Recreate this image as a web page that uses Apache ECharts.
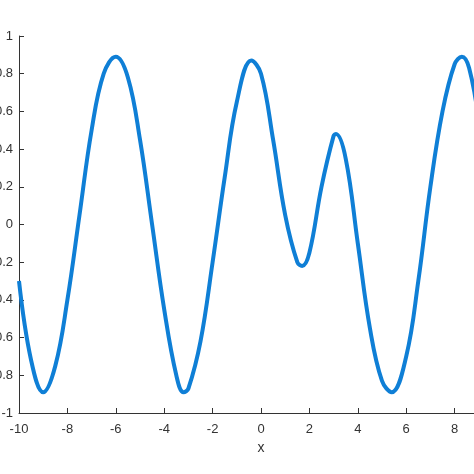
<!DOCTYPE html><html><head><meta charset="utf-8">
<script src="https://cdn.jsdelivr.net/npm/echarts@6/dist/echarts.min.js"></script>
<style>html,body{margin:0;padding:0;background:#fff;overflow:hidden}#c{width:510px;height:474px}</style></head><body><div id="c"></div>
<script>
const xs=[-10,-9.5,-9,-8.5,-8,-7.5,-7,-6.5,-6,-5.5,-5,-4.5,-4,-3.5,-3.2,-3,-2.5,-2,-1.5,-1,-0.4,0,0.5,1,1.5,1.7,2,2.5,3,3.1,3.5,4,4.5,5,5.4,6,6.5,7,7.5,8,8.3,8.6,9];
const ys=[-0.3,-0.72,-0.89,-0.75,-0.4,0.05,0.5,0.8,0.89,0.78,0.45,0.0,-0.45,-0.8,-0.89,-0.87,-0.62,-0.2,0.25,0.65,0.87,0.8,0.45,0.05,-0.2,-0.22,-0.15,0.2,0.47,0.48,0.35,-0.1,-0.55,-0.83,-0.89,-0.7,-0.3,0.2,0.6,0.85,0.89,0.83,0.55];
const ch=echarts.init(document.getElementById('c'));
const ax={color:'#333',fontSize:13,fontFamily:'Liberation Sans'};
ch.setOption({animation:false,
grid:{left:19,right:7,top:36,bottom:61,containLabel:false,outerBoundsMode:'none'},
xAxis:{type:'value',min:-10,max:10,interval:2,name:'x',nameLocation:'middle',nameGap:27,nameTextStyle:{color:'#333',fontSize:14},
axisLine:{onZero:false,lineStyle:{color:'#333'}},axisTick:{inside:true,length:5,lineStyle:{color:'#333'}},axisLabel:Object.assign({margin:10},ax),splitLine:{show:false}},
yAxis:{type:'value',min:-1,max:1,interval:0.2,axisLine:{show:true,onZero:false,lineStyle:{color:'#333'}},axisTick:{show:true,inside:true,length:5,lineStyle:{color:'#333'}},
axisLabel:Object.assign({margin:6,formatter:v=>{const r=Math.round(v*10)/10;return r===0?'0':String(r);}},ax),splitLine:{show:false}},
series:[{type:'line',data:xs.map((x,i)=>[x,ys[i]]),smooth:0.4,showSymbol:false,lineStyle:{color:'#0f7fd6',width:4}}]});
</script></body></html>
